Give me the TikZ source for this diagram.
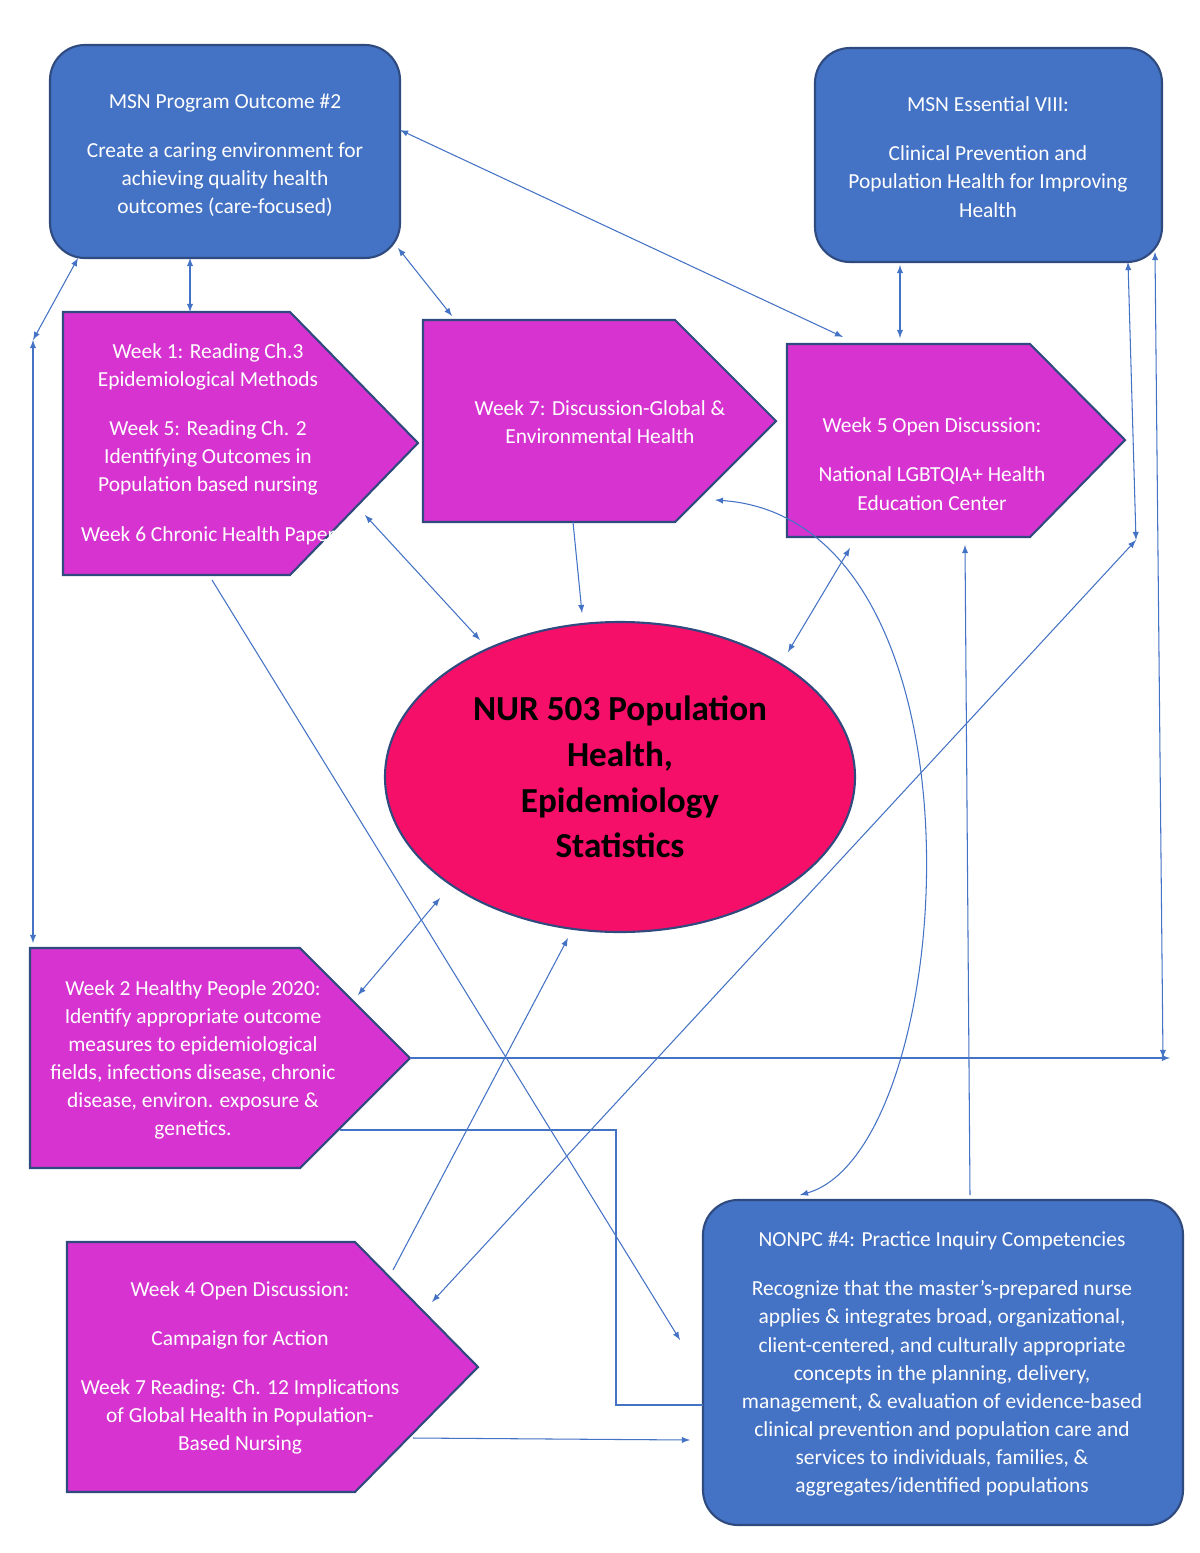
\documentclass[tikz,border=0pt]{standalone}
\usepackage{fontspec}
\setmainfont{Carlito}
\definecolor{boxblue}{HTML}{4472C4}
\definecolor{edgeblue}{HTML}{2F4A7F}
\definecolor{wkpink}{HTML}{D633D0}
\definecolor{hubred}{HTML}{F50F68}
\begin{document}
\begin{tikzpicture}[x=0.02cm,y=-0.02cm,
    outbox/.style={draw=edgeblue, line width=1.2pt, fill=boxblue, rounded corners=0.7cm},
    week/.style={draw=edgeblue, line width=1.2pt, fill=wkpink},
    wtext/.style={text=white, align=center, font=\fontsize{12.2}{16}\selectfont},
    link/.style={draw=boxblue, line width=0.6pt, -latex},
    both/.style={draw=boxblue, line width=0.6pt, latex-latex}
]
    \useasboundingbox (0,0) rectangle (1200,1553);

    % outcome boxes
    \draw[outbox] (50,45) rectangle (400,258);
    \node[wtext] (po) at (225,155) {MSN Program Outcome \#2\\[12pt]Create a caring environment for\\achieving quality health\\outcomes (care-focused)};
    \draw[outbox] (815,48) rectangle (1162,262);
    \node[wtext] (ess) at (988,157) {MSN Essential VIII:\\[12pt]Clinical Prevention and\\Population Health for Improving\\Health};
    \draw[outbox] (703,1200) rectangle (1183,1525);
    \node[wtext] (nonpc) at (942,1364) {NONPC \#4: Practice Inquiry Competencies\\[12pt]Recognize that the master's-prepared nurse\\applies \& integrates broad, organizational,\\client-centered, and culturally appropriate\\concepts in the planning, delivery,\\management, \& evaluation of evidence-based\\clinical prevention and population care and\\services to individuals, families, \&\\aggregates/identified populations};

    % week arrows
    \draw[week] (63,312) -- (290,312) -- (418,443) -- (290,575) -- (63,575) -- cycle;
    \node[wtext] (wkone) at (208,444) {Week 1: Reading Ch.3\\Epidemiological Methods\\[12pt]Week 5: Reading Ch. 2\\Identifying Outcomes in\\Population based nursing\\[12pt]Week 6 Chronic Health Paper};
    \draw[week] (423,320) -- (675,320) -- (776,421) -- (675,522) -- (423,522) -- cycle;
    \node[wtext] (wkseven) at (600,422) {Week 7: Discussion-Global \&\\Environmental Health};
    \draw[week] (787,344) -- (1030,344) -- (1125,440) -- (1030,537) -- (787,537) -- cycle;
    \node[wtext] (wkfive) at (932,464) {Week 5 Open Discussion:\\[12pt]National LGBTQIA+ Health\\Education Center};
    \draw[week] (30,948) -- (300,948) -- (410,1058) -- (300,1168) -- (30,1168) -- cycle;
    \node[wtext] (wktwo) at (193,1060) {Week 2 Healthy People 2020:\\Identify appropriate outcome\\measures to epidemiological\\fields, infections disease, chronic\\disease, environ. exposure \&\\genetics.};
    \draw[week] (67,1242) -- (355,1242) -- (478,1367) -- (355,1492) -- (67,1492) -- cycle;
    \node[wtext] (wkfour) at (240,1368) {Week 4 Open Discussion:\\[12pt]Campaign for Action\\[12pt]Week 7 Reading: Ch. 12 Implications\\of Global Health in Population-\\Based Nursing};

    % hub
    \draw[edgeblue, line width=1.2pt, fill=hubred] (620,777) ellipse [x radius=235, y radius=155];
    \node[align=center, font=\bfseries\fontsize{20}{26}\selectfont] (hub) at (620,777) {NUR 503 Population\\Health,\\Epidemiology\\Statistics};

    % anchor points
    \coordinate (poa) at (190,258);   \coordinate (wkonea) at (190,312);
    \coordinate (pob) at (398,248);   \coordinate (wksevena) at (452,316);
    \coordinate (poc) at (400,130);   \coordinate (wkfivea) at (843,337);
    \coordinate (pod) at (78,258);    \coordinate (lefta) at (33,340);
    \coordinate (leftb) at (33,943);
    \coordinate (essa) at (900,265);  \coordinate (wkfiveb) at (900,338);
    \coordinate (essb) at (1128,262); \coordinate (rightb) at (1136,540);
    \coordinate (wkfoura) at (432,1302);
    \coordinate (essc) at (1155,252); \coordinate (rightc) at (1163,1058);
    \coordinate (wktwoa) at (410,1058); \coordinate (rightd) at (1170,1058);
    \coordinate (wkoneb) at (365,515); \coordinate (huba) at (480,640);
    \coordinate (wksevenb) at (573,522); \coordinate (hubb) at (582,613);
    \coordinate (wkfivec) at (850,548); \coordinate (hubc) at (788,652);
    \coordinate (wkonec) at (212,580); \coordinate (nonpca) at (680,1340);
    \coordinate (wksevenc) at (715,500); \coordinate (nonpcb) at (800,1195);
    \coordinate (nonpcc) at (970,1195); \coordinate (wkfived) at (965,545);
    \coordinate (wktwob) at (358,995); \coordinate (hubd) at (440,898);
    \coordinate (wkfourb) at (393,1270); \coordinate (hube) at (568,938);
    \coordinate (wktwoc) at (340,1130); \coordinate (nonpcd) at (703,1405);
    \coordinate (wkfourc) at (413,1438); \coordinate (nonpce) at (690,1440);

    % connectors
    \draw[both] (poa) -- (wkonea);
    \draw[both] (pob) -- (wksevena);
    \draw[both] (poc) -- (wkfivea);
    \draw[both] (pod) -- (lefta);
    \draw[both] (lefta) -- (leftb);
    \draw[both] (essa) -- (wkfiveb);
    \draw[both] (essb) -- (rightb);
    \draw[both] (rightb) -- (wkfoura);
    \draw[both] (essc) -- (rightc);
    \draw[link] (wktwoa) -- (rightd);
    \draw[both] (wkoneb) -- (huba);
    \draw[link] (wksevenb) -- (hubb);
    \draw[both] (wkfivec) -- (hubc);
    \draw[link] (wkonec) -- (nonpca);
    \draw[both] (wksevenc) .. controls (1000,520) and (960,1150) .. (nonpcb);
    \draw[link] (nonpcc) -- (wkfived);
    \draw[both] (wktwob) -- (hubd);
    \draw[link] (wkfourb) -- (hube);
    \draw[boxblue, line width=0.6pt] (wktwoc) -- (616,1130) |- (nonpcd);
    \draw[link] (wkfourc) -- (nonpce);
\end{tikzpicture}
\end{document}
